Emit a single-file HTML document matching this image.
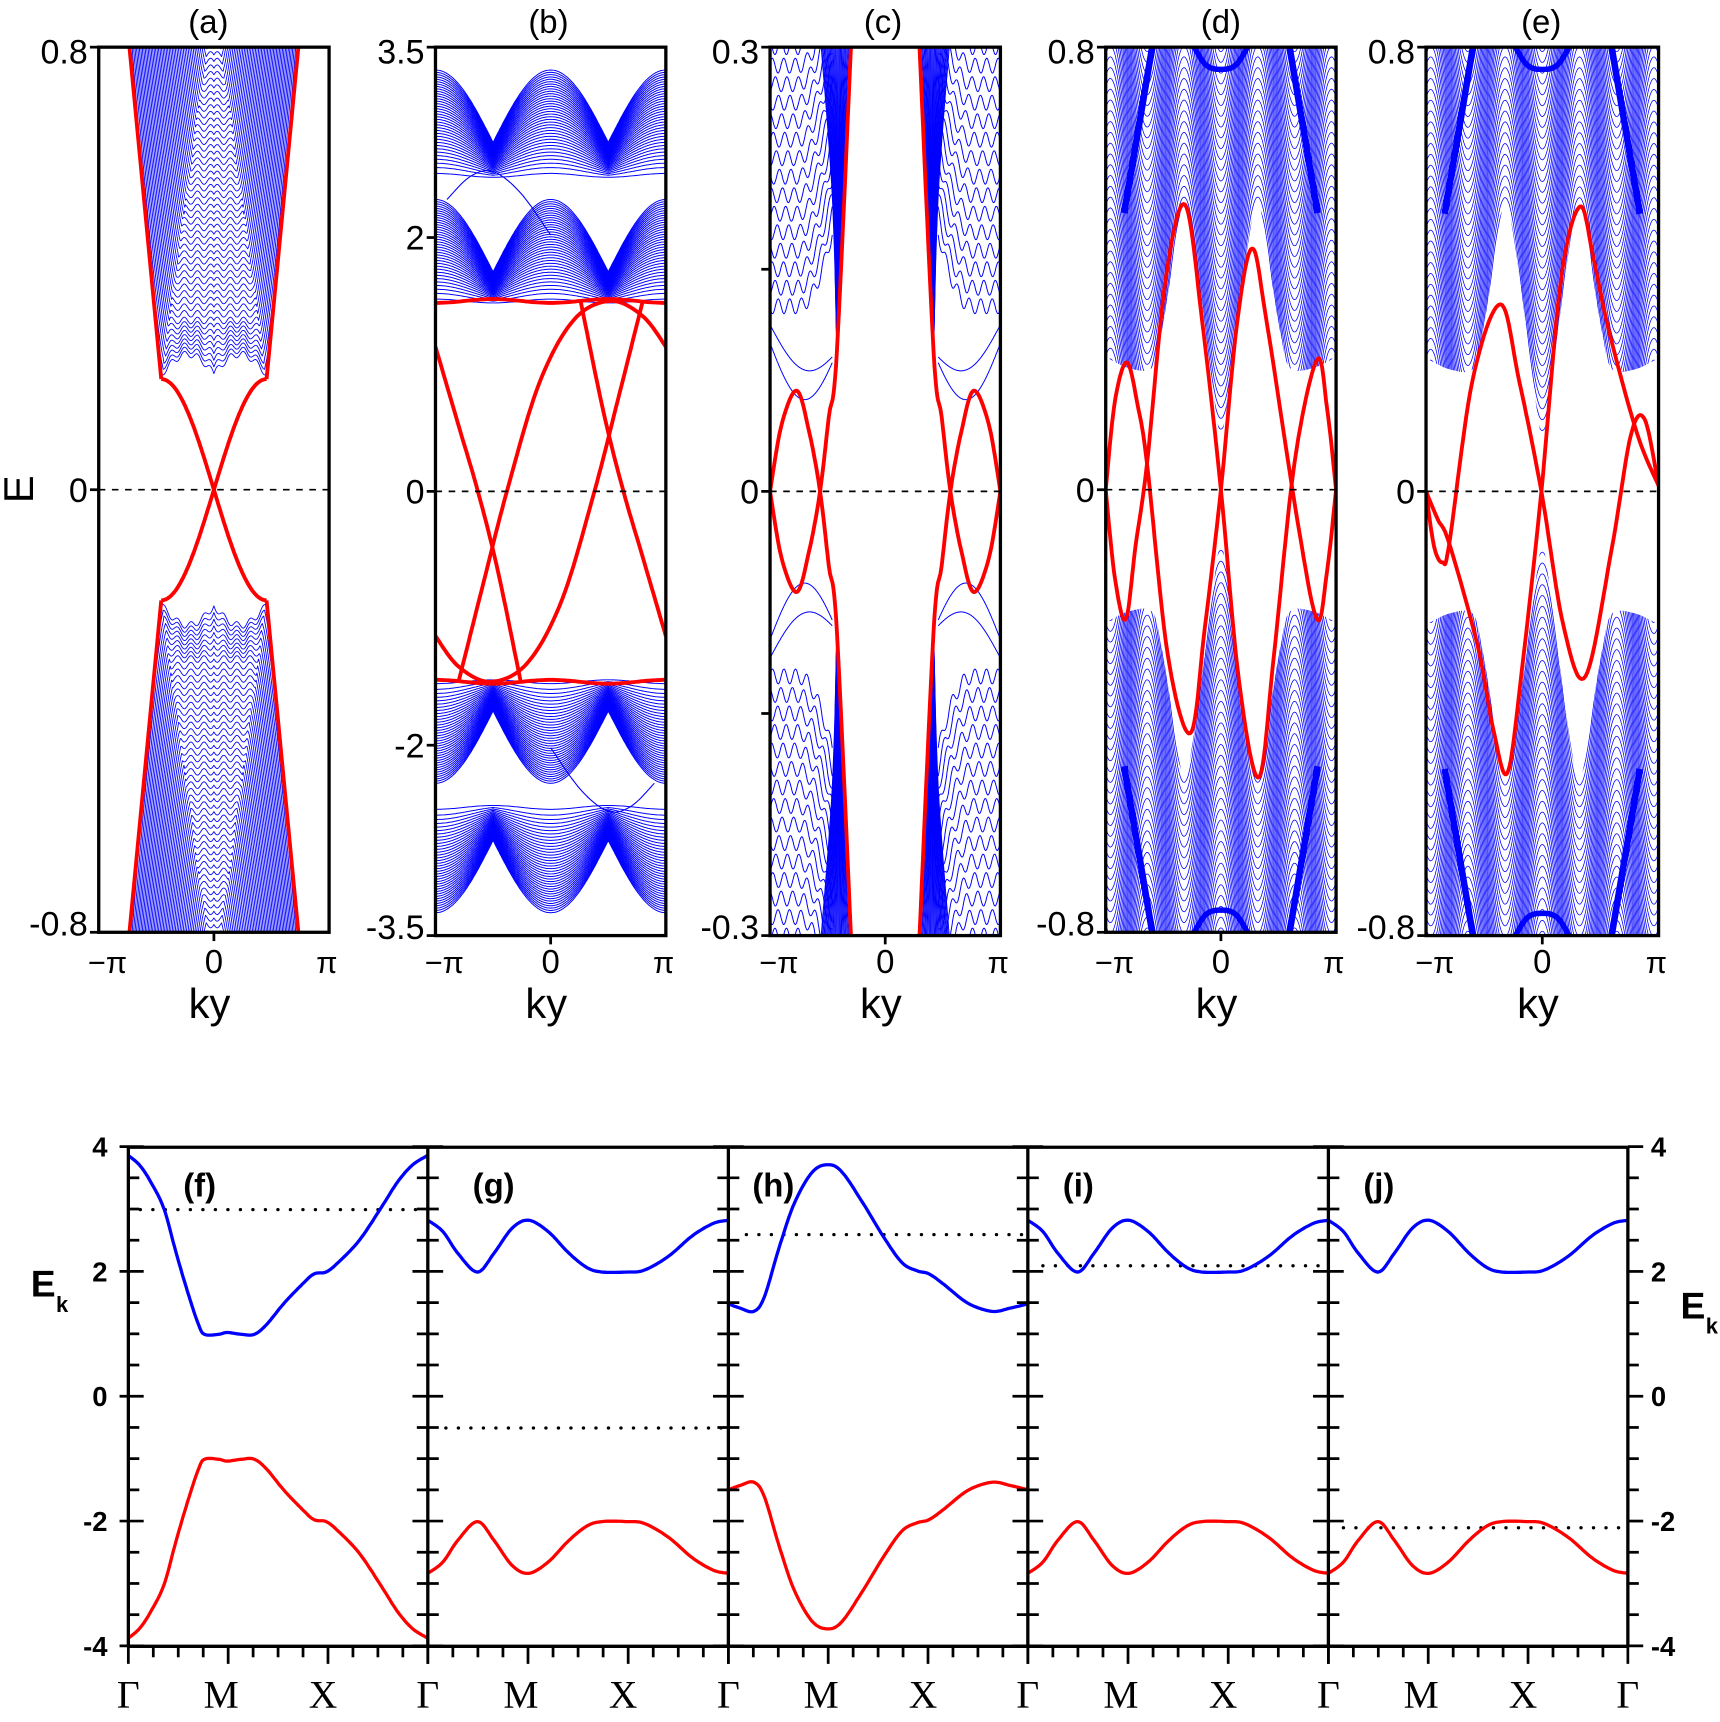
<!DOCTYPE html>
<html><head><meta charset="utf-8"><style>
html,body{margin:0;padding:0;background:#fff;overflow:hidden;width:1720px;height:1722px;}
svg{display:block;position:absolute;left:0;top:0;overflow:hidden;}
text{font-family:"Liberation Sans",sans-serif;}
</style></head><body>
<svg id="s" width="1720" height="1722" viewBox="0 0 1568 1570" preserveAspectRatio="none"></svg>
<script>
let out='';
const PI=Math.PI;
function P(x0,x1,y0,y1,emin,emax){return {x0,x1,y0,y1,emin,emax,X:u=>x0+u*(x1-x0),Y:e=>y1-(e-emin)/(emax-emin)*(y1-y0)};}
function poly(p,pts,stroke,w,extra){out+='<polyline points="'+pts.map(q=>p.X(q[0]).toFixed(1)+','+p.Y(q[1]).toFixed(1)).join(' ')+'" fill="none" stroke="'+stroke+'" stroke-width="'+w+'" stroke-linejoin="round" '+(extra||'')+'/>';}
function sample(f,n,a,b){n=n||200;a=a||0;b=(b===undefined)?1:b;const r=[];for(let i=0;i<=n;i++){const u=a+(b-a)*i/n;r.push([u,f(u)]);}return r;}
function crv(pts){const r=[];for(let i=0;i<pts.length-1;i++){const p0=pts[Math.max(i-1,0)],p1=pts[i],p2=pts[i+1],p3=pts[Math.min(i+2,pts.length-1)];for(let j=0;j<12;j++){const t=j/12,t2=t*t,t3=t2*t;const f=(a,b,c,d)=>0.5*((2*b)+(-a+c)*t+(2*a-5*b+4*c-d)*t2+(-a+3*b-3*c+d)*t3);r.push([f(p0[0],p1[0],p2[0],p3[0]),f(p0[1],p1[1],p2[1],p3[1])]);}}r.push(pts[pts.length-1]);return r;}
const mE=pts=>pts.map(q=>[q[0],-q[1]]);
const mU=pts=>pts.map(q=>[1-q[0],q[1]]);
const mUE=pts=>pts.map(q=>[1-q[0],-q[1]]);
let cid=0;
function clipRect(p){cid++;out+='<clipPath id="c'+cid+'"><rect x="'+p.x0+'" y="'+p.y0+'" width="'+(p.x1-p.x0)+'" height="'+(p.y1-p.y0)+'"/></clipPath>';return 'c'+cid;}
function txt(x,y,s,size,extra){out+='<text x="'+x+'" y="'+y+'" font-size="'+size+'" '+(extra||'')+'>'+s+'</text>';}
const B='#0000ff',R='#ff0000';

const pa=P(90,300,43,850,-0.8,0.8),pb=P(397,607,43,853,-3.5,3.5),pc=P(702,912,43,853,-0.3,0.3),pd=P(1008,1218,43,850,-0.8,0.8),pe=P(1300,1512,43,853,-0.8,0.8);

// (a)
{const p=pa;const c=clipRect(p);out+='<g clip-path="url(#'+c+')">';
const Eb=s=>0.2+(s-0.457)/0.276*0.6;
for(let n=0;n<50;n++){const m=0.21+n*0.012;const w=Math.max(0.06,0.45-(m-0.21)/0.59*0.39);
 const f=u=>{const s=Math.abs(2*u-1);let E;if(s<w){E=m+0.006*Math.sin(s*55)+(n<8?0.035*Math.sin(PI*s/w)*(1-n/8):0);}else{E=m+0.55*Math.pow((s-w)/0.27,1.3);}
 if(s>0.457&&E<Eb(s))E=Eb(s);return E;};
 const pts=sample(f,300);poly(p,pts,B,0.8);poly(p,mE(pts),B,0.8);}
const L=[[0.1335-0.02,0.84],[0.1335,0.8],[0.2715,0.2]];
poly(p,L,R,3.5);poly(p,mU(L),R,3.5);poly(p,mE(L),R,3.5);poly(p,mUE(L),R,3.5);
const e1=sample(u=>{const k=2*u-1;return -0.2*Math.sin(PI/2*k/0.457);},100,0.2715,0.7285);
poly(p,e1,R,3.5);poly(p,mE(e1),R,3.5);
out+='</g>';}

// (b)
{const p=pb;const c=clipRect(p);out+='<g clip-path="url(#'+c+')">';
const bands=[[2.75,2.49],[1.73,1.5]];
for(const [v,b0] of bands){for(let n=0;n<=36;n++){const t=Math.pow(n/36,0.8);
 const f=u=>{const k=(2*u-1)*PI;const top=v+0.57*Math.abs(Math.cos(k));const bot=b0+0.015*Math.cos(2*k);return bot+(top-bot)*t;};
 const pts=sample(f,200);poly(p,pts,B,0.9);poly(p,mE(pts),B,0.9);}}
const arc=crv([[0.05,2.3],[0.15,2.48],[0.25,2.52],[0.37,2.35],[0.5,2.02]]);
poly(p,arc,B,1);poly(p,mUE(arc),B,1);
const flat=sample(u=>1.5-0.015*Math.cos(4*PI*u),100);
poly(p,flat,R,3.5);poly(p,mE(flat),R,3.5);
const C1=crv([[0,1.14],[0.1,0.52],[0.184,0],[0.27,-0.62],[0.37,-1.5]]);
const A=crv([[0.1,-1.5],[0.2,-0.78],[0.31,0],[0.45,0.85],[0.6,1.35],[0.76,1.5],[0.9,1.38],[1,1.14]]);
poly(p,C1,R,3.5);poly(p,mUE(C1),R,3.5);poly(p,A,R,3.5);poly(p,mUE(A),R,3.5);
out+='</g>';}

// (c)
{const p=pc;const c=clipRect(p);out+='<g clip-path="url(#'+c+')">';
const wav=[];
for(let n=0;n<17;n++){const En=0.1+n*0.0125;
 const f=u=>{let E=En+0.005*Math.sin(u*2*PI*20+n*1.7);if(n<2){E=En-0.035*Math.sin(PI*u/0.29)*(1-n*0.4)+(0.094-En)*(u/0.29);} else if(u>0.12)E+=Math.pow((u-0.12)/0.15,2)*0.05;return E;};
 wav.push(sample(f,200,0,0.27));}
const dense=[];
for(let n=0;n<=26;n++){const t=n/26;dense.push(crv([[0.29,0.094],[0.27+0.045*t,0.2],[0.217+0.137*t,0.31]]));}
for(const set of [wav,dense])for(const pts of set){poly(p,pts,B,0.9);poly(p,mE(pts),B,0.9);poly(p,mU(pts),B,0.9);poly(p,mUE(pts),B,0.9);}
const R1=crv([[0,0],[0.05,0.045],[0.116,0.068],[0.17,0.04],[0.217,0],[0.255,-0.05],[0.29,-0.094],[0.354,-0.31]]);
poly(p,R1,R,3.5);poly(p,mE(R1),R,3.5);poly(p,mU(R1),R,3.5);poly(p,mUE(R1),R,3.5);
out+='</g>';}

function cont(p,c){
 const Bp=[[0,0.24],[0.1,0.22],[0.2,0.22],[0.24,0.28],[0.28,0.38],[0.31,0.47],[0.345,0.52],[0.38,0.45],[0.42,0.33],[0.46,0.2],[0.5,0.1]];
 const full=Bp.concat(Bp.slice(0,-1).reverse().map(q=>[1-q[0],q[1]]));
 const sm=crv(full);
 cid++;const up='c'+cid;
 out+='<clipPath id="'+up+'"><polygon points="'+p.X(0)+','+p.Y(0.9)+' '+sm.map(q=>p.X(q[0]).toFixed(1)+','+p.Y(q[1]).toFixed(1)).join(' ')+' '+p.X(1)+','+p.Y(0.9)+'"/></clipPath>';
 cid++;const dn='c'+cid;
 out+='<clipPath id="'+dn+'"><polygon points="'+p.X(0)+','+p.Y(-0.9)+' '+sm.map(q=>p.X(q[0]).toFixed(1)+','+p.Y(-q[1]).toFixed(1)).join(' ')+' '+p.X(1)+','+p.Y(-0.9)+'"/></clipPath>';
 const lines=[];
 for(let n=0;n<62;n++){const m=-0.1+n*0.0195;lines.push(sample(u=>m-0.2*Math.cos(2*PI*(u-0.5)/0.32),240));}
 const thick=[[[0.08,0.5],[0.21,0.82]],[[0.92,0.5],[0.79,0.82]]];
 const arch=crv([[0.36,0.82],[0.43,0.77],[0.5,0.76],[0.57,0.77],[0.64,0.82]]);
 out+='<g clip-path="url(#'+c+')"><g clip-path="url(#'+up+')">';
 for(const l of lines)poly(p,l,B,0.7);
 for(const t of thick)poly(p,t,B,6);
 poly(p,arch,B,5);
 out+='</g><g clip-path="url(#'+dn+')">';
 for(const l of lines)poly(p,mE(l),B,0.7);
 for(const t of thick)poly(p,mE(t),B,6);
 poly(p,mE(arch),B,5);
 out+='</g>';
}
{const p=pd;const c=clipRect(p);cont(p,c);
const D1=crv([[0,0],[0.04,0.16],[0.092,0.23],[0.14,0.15],[0.18,0.045],[0.27,-0.3],[0.368,-0.44],[0.43,-0.25],[0.5,0],[0.57,0.3],[0.636,0.436],[0.7,0.3],[0.834,-0.06],[0.917,-0.234],[0.96,-0.15],[1,0]]);
const D2=crv([[0,0],[0.04,-0.16],[0.087,-0.234],[0.13,-0.1],[0.18,0.05],[0.26,0.38],[0.345,0.515],[0.42,0.3],[0.5,0],[0.58,-0.35],[0.665,-0.52],[0.73,-0.3],[0.82,0.05],[0.917,0.235],[0.96,0.15],[1,0]]);
poly(p,D1,R,3.5);poly(p,D2,R,3.5);out+='</g>';}
{const p=pe;const c=clipRect(p);cont(p,c);
const E1=crv([[0,0],[0.05,-0.05],[0.1,-0.094],[0.223,-0.28],[0.29,-0.43],[0.35,-0.507],[0.41,-0.33],[0.496,0],[0.58,0.38],[0.662,0.513],[0.72,0.42],[0.786,0.29],[0.907,0.105],[1,0.01]]);
const E2=crv([[0,0],[0.035,-0.1],[0.072,-0.128],[0.1,-0.094],[0.2,0.2],[0.32,0.337],[0.4,0.2],[0.496,0],[0.59,-0.24],[0.686,-0.333],[0.8,-0.1],[0.88,0.1],[0.94,0.13],[1,0.01]]);
poly(p,E1,R,3.5);poly(p,E2,R,3.5);out+='</g>';}

const tops=[[pa,'(a)',190,[[0.8,'0.8'],[0,'0'],[-0.8,'-0.8']]],[pb,'(b)',500,[[3.5,'3.5'],[2,'2'],[0,'0'],[-2,'-2'],[-3.5,'-3.5']]],[pc,'(c)',805,[[0.3,'0.3'],[0.15,''],[0,'0'],[-0.15,''],[-0.3,'-0.3']]],[pd,'(d)',1113,[[0.8,'0.8'],[0,'0'],[-0.8,'-0.8']]],[pe,'(e)',1405,[[0.8,'0.8'],[0,'0'],[-0.8,'-0.8']]]];
for(const [p,t,cx,yt] of tops){
 const y0=p.Y(0);
 out+='<line x1="'+p.x0+'" y1="'+y0+'" x2="'+p.x1+'" y2="'+y0+'" stroke="#000" stroke-width="1.5" stroke-dasharray="6,6"/>';
 out+='<rect x="'+p.x0+'" y="'+p.y0+'" width="'+(p.x1-p.x0)+'" height="'+(p.y1-p.y0)+'" fill="none" stroke="#000" stroke-width="3"/>';
 txt(cx,30,t,30,'text-anchor="middle"');
 for(const [v,s] of yt){let y=p.Y(v);out+='<line x1="'+(p.x0-8)+'" y1="'+y+'" x2="'+p.x0+'" y2="'+y+'" stroke="#000" stroke-width="2.5"/>';
  if(s){let yy=y+11;if(v===p.emax)yy=y+15;if(v===p.emin)yy=y+3;txt(p.x0-10,yy,s,31,'text-anchor="end"');}}
 const xm=(p.x0+p.x1)/2;
 out+='<line x1="'+xm+'" y1="'+p.y1+'" x2="'+xm+'" y2="'+(p.y1+8)+'" stroke="#000" stroke-width="2.5"/>';
 txt(p.x0+8,887,'\u2212\u03c0',28,'text-anchor="middle"');txt(xm,887,'0',30,'text-anchor="middle"');txt(p.x1-2,887,'\u03c0',28,'text-anchor="middle"');
 txt(xm-4,928,'ky',38,'text-anchor="middle"');
}
txt(0,0,'E',38,'transform="translate(30,446) rotate(-90)" text-anchor="middle"');

const xs=[117,390,664,937,1211,1484];const by0=1046,by1=1501;
const bp=i=>P(xs[i],xs[i+1],by0,by1,-4,4);
const fB=[[0,3.87],[0.04,3.7],[0.08,3.4],[0.12,3.0],[0.16,2.3],[0.2,1.65],[0.235,1.15],[0.255,1.0],[0.3,1.0],[0.33,1.03],[0.38,1.0],[0.42,1.0],[0.46,1.15],[0.52,1.5],[0.58,1.8],[0.62,1.97],[0.66,2.0],[0.7,2.15],[0.77,2.5],[0.84,3.0],[0.9,3.45],[0.95,3.72],[1,3.87]];
const gB=[[0,2.83],[0.05,2.65],[0.1,2.3],[0.165,2.0],[0.22,2.3],[0.28,2.7],[0.335,2.83],[0.4,2.65],[0.47,2.3],[0.53,2.07],[0.58,2.0],[0.66,2.0],[0.72,2.03],[0.8,2.25],[0.88,2.58],[0.95,2.78],[1,2.83]];
const hB=[[0,1.49],[0.04,1.42],[0.085,1.37],[0.12,1.6],[0.17,2.4],[0.22,3.1],[0.28,3.6],[0.333,3.72],[0.38,3.6],[0.45,3.1],[0.52,2.55],[0.58,2.15],[0.63,2.02],[0.67,1.97],[0.72,1.8],[0.8,1.5],[0.88,1.37],[0.94,1.42],[1,1.49]];
const sets=[[fB,3.0,0.04,'(f)',182],[gB,-0.5,0.06,'(g)',450],[hB,2.6,0.06,'(h)',705],[gB,2.1,0.05,'(i)',983],[gB,-2.1,0.05,'(j)',1257]];
sets.forEach((s,i)=>{const p=bp(i);const c=crv(s[0]);
 const x0=p.X(s[2]),x1=p.X(1);const y=p.Y(s[1]);
 out+='<line x1="'+x0+'" y1="'+y+'" x2="'+x1+'" y2="'+y+'" stroke="#000" stroke-width="3" stroke-dasharray="0.1,11.3" stroke-linecap="round"/>';
 poly(p,c,B,3);poly(p,mE(c),R,3);
 txt(s[4],1091,s[3],30,'font-weight="bold" text-anchor="middle"');
 for(let j=0;j<=12;j++){const x=p.X(j/12);const big=j%4===0;out+='<line x1="'+x+'" y1="'+by1+'" x2="'+x+'" y2="'+(by1+(big?16:10))+'" stroke="#000" stroke-width="2.5"/>';}
 const lab=[['\u0393',0.0],['M',0.31],['X',0.65]];
 for(const [l,f] of lab)txt(p.X(f),1557,l,36,'text-anchor="middle" style="font-family:\'Liberation Serif\',serif"');
});
txt(1484,1557,'\u0393',36,'text-anchor="middle" style="font-family:\'Liberation Serif\',serif"');
for(let k=0;k<xs.length;k++){const x=xs[k];
 for(let j=0;j<=16;j++){const v=-4+j*0.5;const y=1273-v*56.9;const big=(v%2===0);
  let a,b;if(k===0){a=x;b=x+(big?14:10);if(big){a=x-8;}}else if(k===5){a=x;b=x+(big?14:10);}else{a=x-(big?14:10);b=x+(big?14:10);}
  out+='<line x1="'+a+'" y1="'+y+'" x2="'+b+'" y2="'+y+'" stroke="#000" stroke-width="2.5"/>';}}
out+='<line x1="'+xs[0]+'" y1="'+by0+'" x2="'+xs[5]+'" y2="'+by0+'" stroke="#000" stroke-width="3"/>';
out+='<line x1="'+xs[0]+'" y1="'+by1+'" x2="'+xs[5]+'" y2="'+by1+'" stroke="#000" stroke-width="3"/>';
for(const x of xs)out+='<line x1="'+x+'" y1="'+by0+'" x2="'+x+'" y2="'+by1+'" stroke="#000" stroke-width="3"/>';
for(const v of [4,2,0,-2,-4]){const y=1273-v*56.9+9;txt(98,y,String(v),25,'font-weight="bold" text-anchor="end"');txt(1505,y,String(v),25,'font-weight="bold"');}
txt(28,1182,'E',34,'font-weight="bold"');txt(51,1196,'k',20,'font-weight="bold"');
txt(1532,1202,'E',34,'font-weight="bold"');txt(1555,1216,'k',20,'font-weight="bold"');
document.getElementById('s').innerHTML=out;
</script>
</body></html>
